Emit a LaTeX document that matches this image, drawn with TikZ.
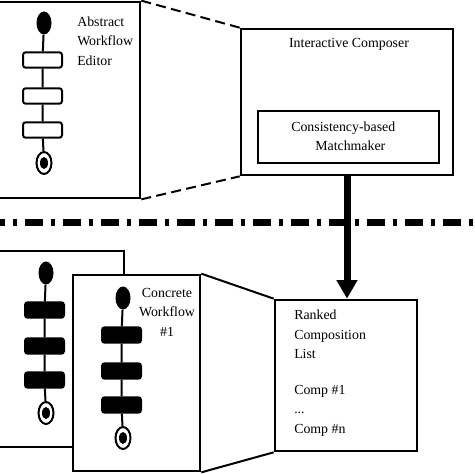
\documentclass[tikz,border=0pt]{standalone}
\usepackage{fontspec}
\setmainfont{Liberation Serif}
\usetikzlibrary{positioning}
\usetikzlibrary{shapes.geometric}
\usetikzlibrary{arrows.meta}

\tikzset{
  box/.style={draw, line width=2pt, inner sep=0pt, fill=white},
  txt/.style={font=\fontsize{10.4}{14.6}\selectfont, inner sep=0pt, align=left},
  task/.style={draw, line width=1.5pt, rounded corners=2pt, minimum width=29.25pt, minimum height=11.6pt, inner sep=0pt},
  start dot/.style={ellipse, fill=black, minimum width=11.25pt, minimum height=17.25pt, inner sep=0pt},
  end dot/.style={ellipse, draw, line width=1.5pt, fill=white, minimum width=11.25pt, minimum height=16.5pt, inner sep=0pt},
  flow/.style={line width=1.5pt},
  zoomline/.style={line width=1.5pt},
  separator/.style={line width=5.25pt, dash pattern=on 13.5pt off 6pt on 3pt off 6pt, dash phase=9.75pt},
  pics/workflow/.style={code={
    \node[start dot] (-start) at (0,0) {};
    \node[task, fill=#1] (-t1) at (-1.5,37) {};
    \node[task, fill=#1] (-t2) at (-1.5,73) {};
    \node[task, fill=#1] (-t3) at (-1.5,107) {};
    \node[end dot] (-end) at (0,140) {};
    \fill (-end.center) ellipse [x radius=3pt, y radius=4.5pt];
    \draw[flow] (-start) -- (-t1) -- (-t2) -- (-t3) -- (-end);
  }}
}

\begin{document}
\begin{tikzpicture}[x=0.75pt, y=-0.75pt]
\clip (0,0) rectangle (474,474);

% separator
\coordinate (sepL) at (0,222);
\coordinate (sepR) at (474,222);
\draw[separator] (sepL) -- (sepR);

% upper part
{
\node[box, minimum width=112.5pt, minimum height=147pt] (editor) at (65,100) {};
\pic (abs) at (44,23) {workflow=white};
\node[txt, anchor=north west] (editortxt) at (77,16.5) {Abstract\\Workflow\\Editor};

\node[box, minimum width=159pt, minimum height=109.5pt] (composer) at (347,102) {};
\node[txt, anchor=north] (composertxt) at (349,38.5) {Interactive Composer};

\node[box, line width=1.6pt, minimum width=135.75pt, minimum height=39pt] (matcher) at (348.5,137) {};
\node[txt, anchor=north west] (matchertxt) at (291,121.5) {Consistency-based\\\hspace*{18pt}Matchmaker};

\draw[zoomline, dash pattern=on 7.5pt off 4pt] (editor.north east) -- (composer.north west);
\draw[zoomline, dash pattern=on 7.5pt off 4pt] (editor.south east) -- (composer.south west);
}

% lower part
{
\node[box, minimum width=100.5pt, minimum height=147pt] (backcard) at (57,349) {};
\pic (back) at (46,273) {workflow=black};

\node[box, minimum width=95.25pt, minimum height=147pt] (frontcard) at (136.5,373) {};
\pic (front) at (123,298) {workflow=black};
\node[txt, align=center, anchor=north] (fronttxt) at (167,288) {Concrete\\Workflow\\\#1};

\node[box, minimum width=106.5pt, minimum height=113.25pt] (ranked) at (346,375.5) {};
\node[txt, anchor=north west] (rankedtxt) at (294,310) {Ranked\\Composition\\List\\[12pt]Comp \#1\\...\\Comp \#n};

\draw[zoomline] (frontcard.north east) -- (ranked.north west);
\draw[zoomline] (frontcard.south east) -- (ranked.south west);
}

% result arrow
\draw[line width=5.25pt, -{Triangle[width=15pt, length=14pt]}] (composer.south) -- (composer.south |- ranked.north);

\end{tikzpicture}
\end{document}
